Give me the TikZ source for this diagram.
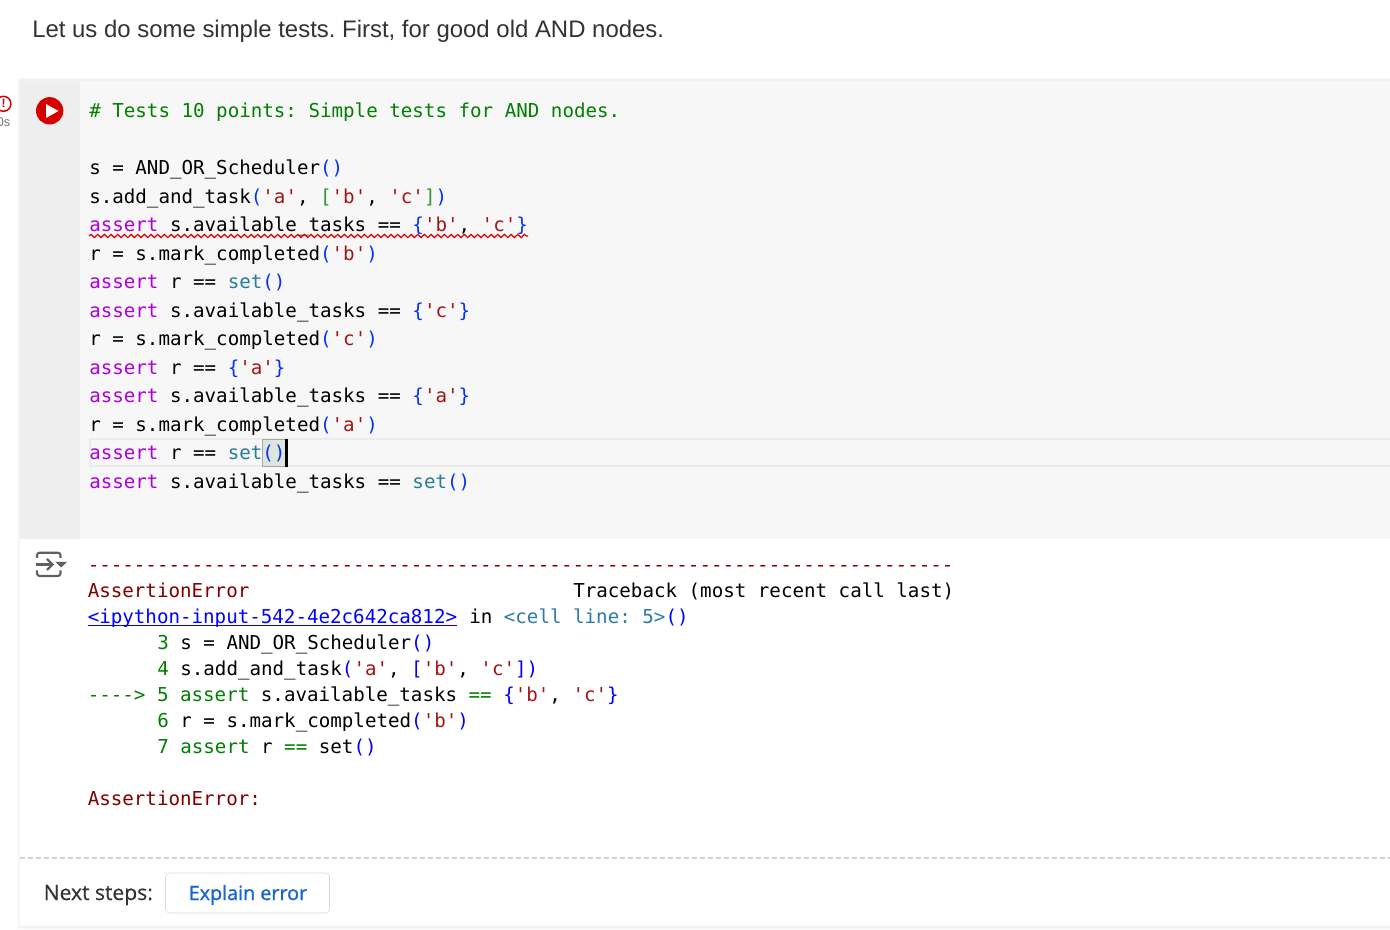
\documentclass[tikz,border=0pt]{standalone}
\usepackage{fontspec}
\usetikzlibrary{decorations.pathmorphing}
\setmainfont{Liberation Sans}
\newfontfamily\codefont{DejaVu Sans Mono}
\newfontfamily\uifont[FakeBold=0.5]{Open Sans}
\newfontfamily\btnfont[FakeBold=1.3]{Open Sans}
\definecolor{cellbg}{HTML}{F7F7F7}
\definecolor{gutterbg}{HTML}{EEEEEE}
\definecolor{kwcol}{HTML}{AF00DB}
\definecolor{strcol}{HTML}{A31515}
\definecolor{blucol}{HTML}{0431FA}
\definecolor{grncol}{HTML}{319331}
\definecolor{fncol}{HTML}{267F99}
\definecolor{comcol}{HTML}{008000}
\definecolor{errcol}{HTML}{800000}
\definecolor{cellcol}{HTML}{2E7BA6}
\definecolor{runcol}{HTML}{D50000}
\definecolor{iconcol}{HTML}{616161}
\definecolor{btncol}{HTML}{1967D2}
\definecolor{matchbg}{HTML}{DCE6DE}
\newcommand{\kw}[1]{\textcolor{kwcol}{#1}}
\newcommand{\st}[1]{\textcolor{strcol}{#1}}
\newcommand{\bl}[1]{\textcolor{blucol}{#1}}
\newcommand{\gr}[1]{\textcolor{grncol}{#1}}
\newcommand{\fn}[1]{\textcolor{fncol}{#1}}
\newcommand{\lnum}[1]{\textcolor{comcol}{#1}}
\tikzset{
  code/.style={anchor=base west, inner sep=0pt, font=\codefont\fontsize{14.38}{16}\selectfont\frenchspacing, text=black},
  ui/.style={anchor=base west, inner sep=0pt, text=black!80}
}
\begin{document}
\begin{tikzpicture}[x=0.75pt,y=-0.75pt]
    \useasboundingbox (0,0) rectangle (1390,930);
    \fill[white] (0,0) rectangle (1390,930);
    % card and its shadow
    \fill[black!2] (17,78.5) rectangle (1390,929);
    \fill[black!5] (18.5,79.5) rectangle (1390,927.5);
    \fill[white] (20,81) rectangle (1390,926);
    \fill[cellbg] (20,81) rectangle (1390,539);
    \fill[gutterbg] (20,81) rectangle (80,539);

    % error mark, run button
    \node[circle, draw=runcol, line width=1.1pt, minimum size=11.2pt, inner sep=0pt, text=runcol, font=\bfseries\fontsize{9}{9}\selectfont] (errmark) at (3.5,103.8) {!};
    \node[ui, text=black!55, font=\fontsize{9.5}{10}\selectfont, anchor=base east] (runtime) at (10.5,126.5) {0s};
    \node[circle, fill=runcol, minimum size=20.5pt, inner sep=0pt] (runbtn) at (49.7,110.8) {};
    \fill[white] (46,104) -- (58.5,111) -- (46,118) -- cycle;

    % current line
    \draw[black!8, line width=1.5pt] (1390,439.5) -- (90,439.5) -- (90,466.5) -- (1390,466.5);
    \fill[matchbg, draw=black!35, line width=.5pt] (262,439.5) rectangle (285,466);
    \fill[black] (285,439) rectangle (287.5,467);

    % the code
    \node[code, text=comcol] (c1) at (89,118) {\#\ Tests\ 10\ points:\ Simple\ tests\ for\ AND\ nodes.};
    \node[code] (c3) at (89,175) {s = AND\_OR\_Scheduler\bl{()}};
    \node[code] (c4) at (89,203.5) {s.add\_and\_task\bl{(}\st{'a'}, \gr{[}\st{'b'}, \st{'c'}\gr{]}\bl{)}};
    \node[code] (c5) at (89,232) {\kw{assert} s.available\_tasks == \bl{\{}\st{'b'}, \st{'c'}\bl{\}}};
    \node[code] (c6) at (89,260.5) {r = s.mark\_completed\bl{(}\st{'b'}\bl{)}};
    \node[code] (c7) at (89,289) {\kw{assert} r == \fn{set}\bl{()}};
    \node[code] (c8) at (89,317.5) {\kw{assert} s.available\_tasks == \bl{\{}\st{'c'}\bl{\}}};
    \node[code] (c9) at (89,346) {r = s.mark\_completed\bl{(}\st{'c'}\bl{)}};
    \node[code] (c10) at (89,374.5) {\kw{assert} r == \bl{\{}\st{'a'}\bl{\}}};
    \node[code] (c11) at (89,403) {\kw{assert} s.available\_tasks == \bl{\{}\st{'a'}\bl{\}}};
    \node[code] (c12) at (89,431.5) {r = s.mark\_completed\bl{(}\st{'a'}\bl{)}};
    \node[code] (c13) at (89,460) {\kw{assert} r == \fn{set}\bl{()}};
    \node[code] (c14) at (89,488.5) {\kw{assert} s.available\_tasks == \fn{set}\bl{()}};

    % squiggle under line 5
    \coordinate (sqa) at (89,236);
    \coordinate (sqb) at (528,236);
    \draw[red!85!black, line width=.9pt, decorate, decoration={snake, amplitude=1.2pt, segment length=5pt}] (sqa) -- (sqb);

    % output icon
    \draw[iconcol, line width=1.6pt, rounded corners=2pt] (37,558) -- (37,552.7) -- (60.5,552.7) -- (60.5,558);
    \draw[iconcol, line width=1.6pt, rounded corners=2pt] (37,570.5) -- (37,576) -- (60.5,576) -- (60.5,570.5);
    \draw[iconcol, line width=1.6pt] (36,564.5) -- (52,564.5);
    \draw[iconcol, line width=1.6pt] (47,559) -- (52.5,564.5) -- (47,570);
    \fill[iconcol] (55.5,562) -- (67,562) -- (61.2,567.5) -- cycle;

    % the traceback
    \node[code, text=errcol] (o1) at (87.5,572) {---------------------------------------------------------------------------};
    \node[code, text=errcol] (o2) at (87.5,598) {AssertionError};
    \node[code] (o2b) at (573,598) {Traceback (most recent call last)};
    \node[code, text=blue] (o3) at (87.5,623.5) {<ipython-input-542-4e2c642ca812>};
    \draw[blue, line width=.8pt] ([yshift=-1.6pt]o3.base west) -- ([yshift=-1.6pt]o3.base east);
    \node[code] (o3b) at (469,623.5) {in \textcolor{cellcol}{<cell line: 5>}\textcolor{blue}{()}};
    \node[code] (o4) at (157,649.5) {\lnum{3} s = AND\_OR\_Scheduler\textcolor{blue}{()}};
    \node[code] (o5) at (157,675.5) {\lnum{4} s.add\_and\_task\textcolor{blue}{(}\st{'a'}, \textcolor{blue}{[}\st{'b'}, \st{'c'}\textcolor{blue}{])}};
    \node[code] (o6) at (87.5,701.5) {\lnum{----> 5 assert} s.available\_tasks \lnum{==} \textcolor{blue}{\{}\st{'b'}, \st{'c'}\textcolor{blue}{\}}};
    \node[code] (o7) at (157,727.5) {\lnum{6} r = s.mark\_completed\textcolor{blue}{(}\st{'b'}\textcolor{blue}{)}};
    \node[code] (o8) at (157,753.5) {\lnum{7 assert} r \lnum{==} set\textcolor{blue}{()}};
    \node[code, text=errcol] (o9) at (87.5,805.5) {AssertionError:};

    % next steps
    \draw[black!17, line width=1.7pt, dash pattern=on 4pt off 2pt] (20,858) -- (1390,858);
    \node[ui, font=\uifont\fontsize{15.8}{18}\selectfont\frenchspacing] (next) at (43.5,900) {Next steps:};
    \node[draw=black!15, rounded corners=3pt, minimum width=123pt, minimum height=30pt, inner sep=0pt] (btnbox) at (247.5,893) {};
    \node[ui, text=btncol, font=\btnfont\fontsize{14.8}{18}\selectfont\frenchspacing] (explain) at (188.5,900) {Explain error};

    % intro sentence
    \node[ui, font=\fontsize{17.95}{22}\selectfont\frenchspacing] (intro) at (32,38) {Let us do some simple tests. First, for good old AND nodes.};
\end{tikzpicture}
\end{document}
